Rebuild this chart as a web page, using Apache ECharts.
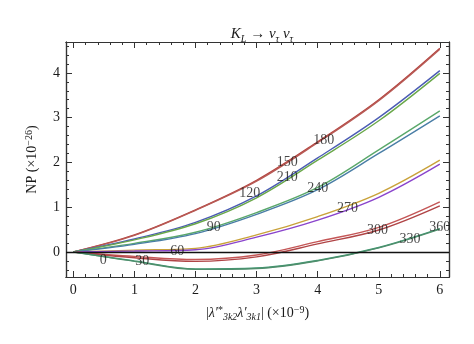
<!DOCTYPE html>
<html>
<head>
<meta charset="utf-8">
<script src="https://cdn.jsdelivr.net/npm/echarts@6/dist/echarts.min.js"></script>
<style>html,body{margin:0;padding:0;background:#fff}#c{width:474px;height:344px}</style>
</head>
<body>
<div id="c"></div>
<script>
// x values (|λ'λ'| ×10^-9)
const xs = [0, 1, 2, 3, 4, 5, 6];
// NP (×10^-26) per phase
const phi180 = [0, 0.38, 0.94, 1.60, 2.46, 3.40, 4.55];
const phi150 = [0, 0.37, 0.93, 1.58, 2.44, 3.38, 4.53];
const phi210 = [0, 0.29, 0.66, 1.25, 2.10, 3.00, 4.05];
const phi120 = [0, 0.27, 0.63, 1.21, 2.05, 2.93, 3.99];
const phi240 = [0, 0.19, 0.44, 0.88, 1.44, 2.28, 3.15];
const phi90  = [0, 0.17, 0.41, 0.84, 1.39, 2.20, 3.04];
const phi60  = [0, 0.04, 0.08, 0.38, 0.79, 1.31, 2.05];
const phi270 = [0, 0.02, 0.05, 0.33, 0.71, 1.22, 1.96];
const phi300 = [0, -0.10, -0.17, -0.07, 0.23, 0.55, 1.12];
const phi30  = [0, -0.13, -0.21, -0.11, 0.18, 0.49, 1.03];
const phi330 = [0, -0.20, -0.38, -0.36, -0.19, 0.10, 0.52];
const phi0   = [0, -0.21, -0.39, -0.37, -0.20, 0.09, 0.51];

const xTicks = [0, 1, 2, 3, 4, 5, 6];
const yTicks = [0, 1, 2, 3, 4];

// contour-style labels
const labelTexts = ['0','30','60','90','120','150','180','210','240','270','300','330','360'];
const labelX = [0.49, 1.13, 1.70, 2.30, 2.89, 3.50, 4.10, 3.50, 4.00, 4.49, 4.98, 5.51, 6.00];
const labelY = [-0.18, -0.22, 0.02, 0.56, 1.32, 2.01, 2.50, 1.67, 1.43, 0.98, 0.49, 0.29, 0.54];

const curves = [
  {name:'180', d:phi180, c:'#b4443f'},
  {name:'150', d:phi150, c:'#b85a55'},
  {name:'210', d:phi210, c:'#4b5cb4'},
  {name:'120', d:phi120, c:'#6aa84a'},
  {name:'240', d:phi240, c:'#5aa86a'},
  {name:'90',  d:phi90,  c:'#4a7ea6'},
  {name:'60',  d:phi60,  c:'#c9a23a'},
  {name:'270', d:phi270, c:'#8a44cc'},
  {name:'300', d:phi300, c:'#c45656'},
  {name:'30',  d:phi30,  c:'#b04446'},
  {name:'330', d:phi330, c:'#3f9a74'},
  {name:'0',   d:phi0,   c:'#4f8e6c'}
];

const XMIN = -0.12, XMAX = 6.15, YMIN = -0.56, YMAX = 4.69;
function range(a, b, s) { const r = []; for (let v = a; v <= b + 1e-9; v += s) r.push(Math.round(v * 100) / 100); return r; }
const xMinor = range(0, 6.0, 0.2);
const yMinor = range(-0.4, 4.6, 0.2);

const serif = 'Liberation Serif';
const axCol = '#333';
const txt = '#1a1a1a';

function mkX(pos, vals, len, labels) {
  return {
    type: 'value', position: pos, min: XMIN, max: XMAX,
    axisLine: {show: true, onZero: false, lineStyle: {color: axCol, width: 1.2}},
    axisTick: {show: true, inside: true, length: len, customValues: vals, lineStyle: {color: axCol, width: 1}},
    axisLabel: labels ? {show: true, customValues: xTicks, fontFamily: serif, fontSize: 14, color: txt, margin: 6} : {show: false},
    splitLine: {show: false}
  };
}
function mkY(pos, vals, len, labels) {
  return {
    type: 'value', position: pos, min: YMIN, max: YMAX,
    axisLine: {show: true, onZero: false, lineStyle: {color: axCol, width: 1.2}},
    axisTick: {show: true, inside: true, length: len, customValues: vals, lineStyle: {color: axCol, width: 1}},
    axisLabel: labels ? {show: true, customValues: yTicks, fontFamily: serif, fontSize: 14, color: txt, margin: 6} : {show: false},
    splitLine: {show: false}
  };
}

const xAxes = [mkX('bottom', xTicks, 6, true), mkX('bottom', xMinor, 3, false), mkX('top', xTicks, 6, false), mkX('top', xMinor, 3, false)];
const yAxes = [mkY('left', yTicks, 6, true), mkY('left', yMinor, 3, false), mkY('right', yTicks, 6, false), mkY('right', yMinor, 3, false)];

xAxes[0].name = '{n||}{i|λ′}{sup|*}{sub|3k2}{i|λ′}{sub|3k1}{n||} (×10{sup|−9}{n|)}';
xAxes[0].nameLocation = 'middle';
xAxes[0].nameGap = 28;
xAxes[0].nameTextStyle = {
  fontFamily: serif, fontSize: 14, color: txt,
  rich: {
    n: {fontFamily: serif, fontSize: 14, color: txt},
    i: {fontFamily: serif, fontSize: 14, fontStyle: 'italic', color: txt},
    sup: {fontFamily: serif, fontSize: 10, color: txt, verticalAlign: 'top', lineHeight: 17},
    sub: {fontFamily: serif, fontSize: 10, fontStyle: 'italic', color: txt, verticalAlign: 'bottom', lineHeight: 17}
  }
};
yAxes[0].name = '{n|NP (×10}{sup|−26}{n|)}';
yAxes[0].nameLocation = 'middle';
yAxes[0].nameRotate = 90;
yAxes[0].nameGap = 25;
yAxes[0].nameTextStyle = {
  fontFamily: serif, fontSize: 14, color: txt,
  rich: {
    n: {fontFamily: serif, fontSize: 14, color: txt},
    sup: {fontFamily: serif, fontSize: 10, color: txt, verticalAlign: 'top', lineHeight: 17}
  }
};

const series = curves.map(cv => ({
  type: 'line', name: cv.name, xAxisIndex: 0, yAxisIndex: 0,
  data: xs.map((x, i) => [x, cv.d[i]]),
  smooth: 0.35, showSymbol: false, symbol: 'none',
  lineStyle: {color: cv.c, width: 1.4}, z: 3, silent: true
}));
// zero line
series.push({
  type: 'line', xAxisIndex: 0, yAxisIndex: 0, data: [], silent: true,
  markLine: {silent: true, symbol: 'none', label: {show: false},
    lineStyle: {color: '#111', width: 1.4, type: 'solid'}, data: [{yAxis: 0}]},
  z: 4
});
// labels
series.push({
  type: 'scatter', xAxisIndex: 0, yAxisIndex: 0, symbolSize: 0, silent: true, z: 10,
  data: labelTexts.map((t, i) => ({value: [labelX[i], labelY[i]], name: t})),
  label: {show: true, position: 'inside', formatter: p => p.name, fontFamily: serif, fontSize: 14, color: txt}
});

const chart = echarts.init(document.getElementById('c'), null, {renderer: 'canvas'});
chart.setOption({
  animation: false,
  backgroundColor: '#fff',
  title: {
    text: '{i|K}{sub|L}{n| → }{i|ν}{sub|τ}{i| ν}{sub|τ}',
    left: 257, top: 20, textAlign: 'center',
    textStyle: {
      fontFamily: serif, fontSize: 15, fontWeight: 'normal', color: txt,
      rich: {
        n: {fontFamily: serif, fontSize: 15, fontWeight: 'normal', color: txt},
        i: {fontFamily: serif, fontSize: 15, fontWeight: 'normal', fontStyle: 'italic', color: txt},
        sub: {fontFamily: serif, fontSize: 10, fontWeight: 'normal', fontStyle: 'italic', color: txt, verticalAlign: 'bottom', lineHeight: 19}
      }
    }
  },
  grid: {left: 66, right: 25, top: 42, bottom: 67},
  xAxis: xAxes,
  yAxis: yAxes,
  series: series
});
</script>
</body>
</html>
